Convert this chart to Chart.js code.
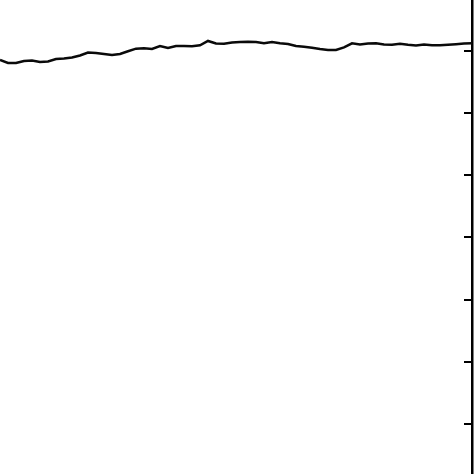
<!DOCTYPE html>
<html>
<head>
<meta charset="utf-8">
<script src="https://cdn.jsdelivr.net/npm/chart.js@4/dist/chart.umd.min.js"></script>
<style>
  html, body { margin: 0; padding: 0; background: #fff; }
  #wrap { width: 474px; height: 474px; position: relative; }
</style>
</head>
<body>
<div id="wrap"><canvas id="grafico"></canvas></div>
<script>
// muestras (indice de tiempo) y valores de la serie
const muestras = Array.from({ length: 60 }, (_, i) => i);
const valores = [
  5.855, 5.807, 5.807, 5.839, 5.847, 5.823, 5.831, 5.871, 5.879, 5.895,
  5.927, 5.976, 5.968, 5.951, 5.935, 5.951, 5.995, 6.037, 6.043, 6.032,
  6.080, 6.048, 6.080, 6.080, 6.075, 6.091, 6.161, 6.120, 6.117, 6.136,
  6.144, 6.148, 6.144, 6.123, 6.144, 6.123, 6.112, 6.080, 6.069, 6.053,
  6.032, 6.016, 6.016, 6.059, 6.123, 6.104, 6.120, 6.125, 6.104, 6.101,
  6.115, 6.099, 6.088, 6.104, 6.093, 6.091, 6.099, 6.109, 6.120, 6.123
];
// marcas del eje derecho (sin etiquetas visibles)
const marcasY = [0, 1, 2, 3, 4, 5, 6];
const rangoY = [-0.804, 6.82];

// marcas hacia dentro del eje derecho
const marcasDentro = {
  id: 'marcasDentro',
  afterDraw(chart) {
    const s = chart.scales.y;
    const ctx = chart.ctx;
    ctx.save();
    ctx.strokeStyle = '#000';
    ctx.lineWidth = 2;
    ctx.beginPath();
    s.ticks.forEach(t => {
      const y = Math.round(s.getPixelForValue(t.value));
      ctx.moveTo(s.left - 8, y);
      ctx.lineTo(s.left, y);
    });
    ctx.stroke();
    ctx.restore();
  }
};

new Chart(document.getElementById('grafico'), {
  type: 'line',
  data: {
    labels: muestras,
    datasets: [{
      data: valores,
      borderColor: '#0a0a0a',
      borderWidth: 2.5,
      pointRadius: 0,
      tension: 0,
      fill: false
    }]
  },
  options: {
    responsive: true,
    maintainAspectRatio: false,
    animation: false,
    layout: { padding: { left: 0, right: 2, top: 0, bottom: 0 } },
    plugins: { legend: { display: false }, tooltip: { enabled: false } },
    scales: {
      x: { display: false },
      y: {
        position: 'right',
        min: rangoY[0],
        max: rangoY[1],
        afterBuildTicks: scale => { scale.ticks = marcasY.map(v => ({ value: v })); },
        ticks: { display: false },
        grid: { drawOnChartArea: false, drawTicks: false },
        border: { display: true, color: '#000', width: 2.5 }
      }
    }
  },
  plugins: [marcasDentro]
});
</script>
</body>
</html>
